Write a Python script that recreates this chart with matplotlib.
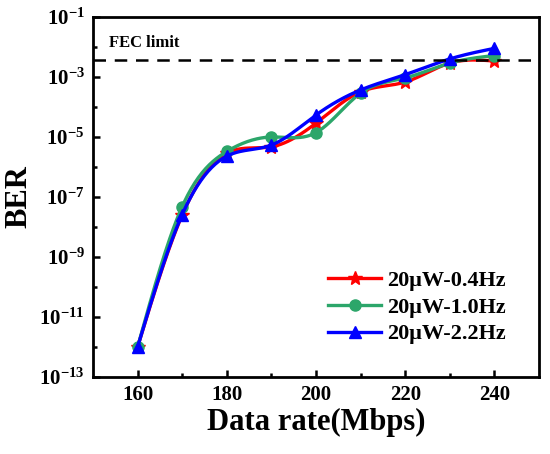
import numpy as np
import matplotlib
matplotlib.use('Agg')
import matplotlib.pyplot as plt
from matplotlib.ticker import FixedLocator, NullFormatter

rate = [160, 170, 180, 190, 200, 210, 220, 230, 240]
ber_04 = [1.0e-12, 2.5e-8, 2.9e-6, 4.7e-6, 2.9e-5, 3.2e-4, 6.8e-4, 2.9e-3, 3.4e-3]
ber_10 = [1.0e-12, 4.8e-8, 3.3e-6, 1.0e-5, 1.4e-5, 2.9e-4, 9.3e-4, 2.9e-3, 5.2e-3]
ber_22 = [1.0e-12, 2.6e-8, 2.3e-6, 5.4e-6, 5.4e-5, 3.7e-4, 1.2e-3, 4.0e-3, 9.0e-3]
labels = ['20\u03bcW-0.4Hz', '20\u03bcW-1.0Hz', '20\u03bcW-2.2Hz']
fec = 3.8e-3
ytick_exp = [-1, -3, -5, -7, -9, -11, -13]

plt.rcParams['font.family'] = 'Liberation Serif'
plt.rcParams['font.weight'] = 'bold'
plt.rcParams['mathtext.fontset'] = 'custom'
plt.rcParams['mathtext.rm'] = 'Liberation Serif:bold'
plt.rcParams['mathtext.bf'] = 'Liberation Serif:bold'
plt.rcParams['axes.unicode_minus'] = False


def spline(x, y, n=300):
    # natural cubic spline through the points, done in log space
    x = np.asarray(x, float)
    y = np.log10(y)
    k = len(x)
    h = np.diff(x)
    A = np.zeros((k, k))
    b = np.zeros(k)
    A[0, 0] = A[-1, -1] = 1
    for i in range(1, k - 1):
        A[i, i - 1] = h[i - 1]
        A[i, i] = 2 * (h[i - 1] + h[i])
        A[i, i + 1] = h[i]
        b[i] = 3 * ((y[i + 1] - y[i]) / h[i] - (y[i] - y[i - 1]) / h[i - 1])
    c = np.linalg.solve(A, b)
    xs = np.linspace(x[0], x[-1], n)
    idx = np.clip(np.searchsorted(x, xs) - 1, 0, k - 2)
    dx = xs - x[idx]
    bb = (y[idx + 1] - y[idx]) / h[idx] - h[idx] * (2 * c[idx] + c[idx + 1]) / 3
    d = (c[idx + 1] - c[idx]) / (3 * h[idx])
    ys = y[idx] + bb * dx + c[idx] * dx ** 2 + d * dx ** 3
    return xs, 10 ** ys


fig = plt.figure(figsize=(5.5, 4.54), dpi=100)
ax = fig.add_axes([93 / 550, 1 - 377 / 454, 446 / 550, 360 / 454])

series = [(ber_04, 'red', '*', 10), (ber_10, '#2ca66a', 'o', 8), (ber_22, 'blue', '^', 8)]
for (vals, col, mk, ms), lab in zip(series, labels):
    xs, ys = spline(rate, vals)
    ax.plot(xs, ys, color=col, lw=2.4)
    ax.plot(rate, vals, ls='none', marker=mk, color=col, ms=ms)
    ax.plot([], [], color=col, lw=2.4, marker=mk, ms=ms, label=lab)

ax.axhline(fec, color='black', ls=(0, (5, 3.5)), lw=1.8)
ax.text(153.5, 1.0e-2, 'FEC limit', fontsize=12, fontweight='bold')

ax.set_yscale('log')
ax.set_xlim(150, 250)
ax.set_ylim(1e-13, 1e-1)
ax.set_xticks([160, 180, 200, 220, 240])
ax.xaxis.set_minor_locator(FixedLocator([170, 190, 210, 230]))
ax.set_yticks([10.0 ** e for e in ytick_exp])
ax.set_yticklabels(['$\\mathbf{10^{-%d}}$' % -e for e in ytick_exp])
ax.yaxis.set_minor_locator(FixedLocator([10.0 ** e for e in range(-12, -1, 2)]))
ax.yaxis.set_minor_formatter(NullFormatter())
ax.tick_params(which='both', direction='in', width=1.8, labelsize=15, pad=6)
ax.tick_params(which='major', length=5)
ax.tick_params(which='minor', length=3)
for s in ax.spines.values():
    s.set_linewidth(2)

ax.set_xlabel('Data rate(Mbps)', fontsize=22, fontweight='bold', labelpad=2)
ax.set_ylabel('BER', fontsize=22, fontweight='bold', labelpad=4)

ax.legend(loc='lower right', frameon=False, fontsize=16, handlelength=2.4,
          handletextpad=0.25, labelspacing=0.28, bbox_to_anchor=(0.97, 0.035))

fig.savefig('out.png', dpi=100)
